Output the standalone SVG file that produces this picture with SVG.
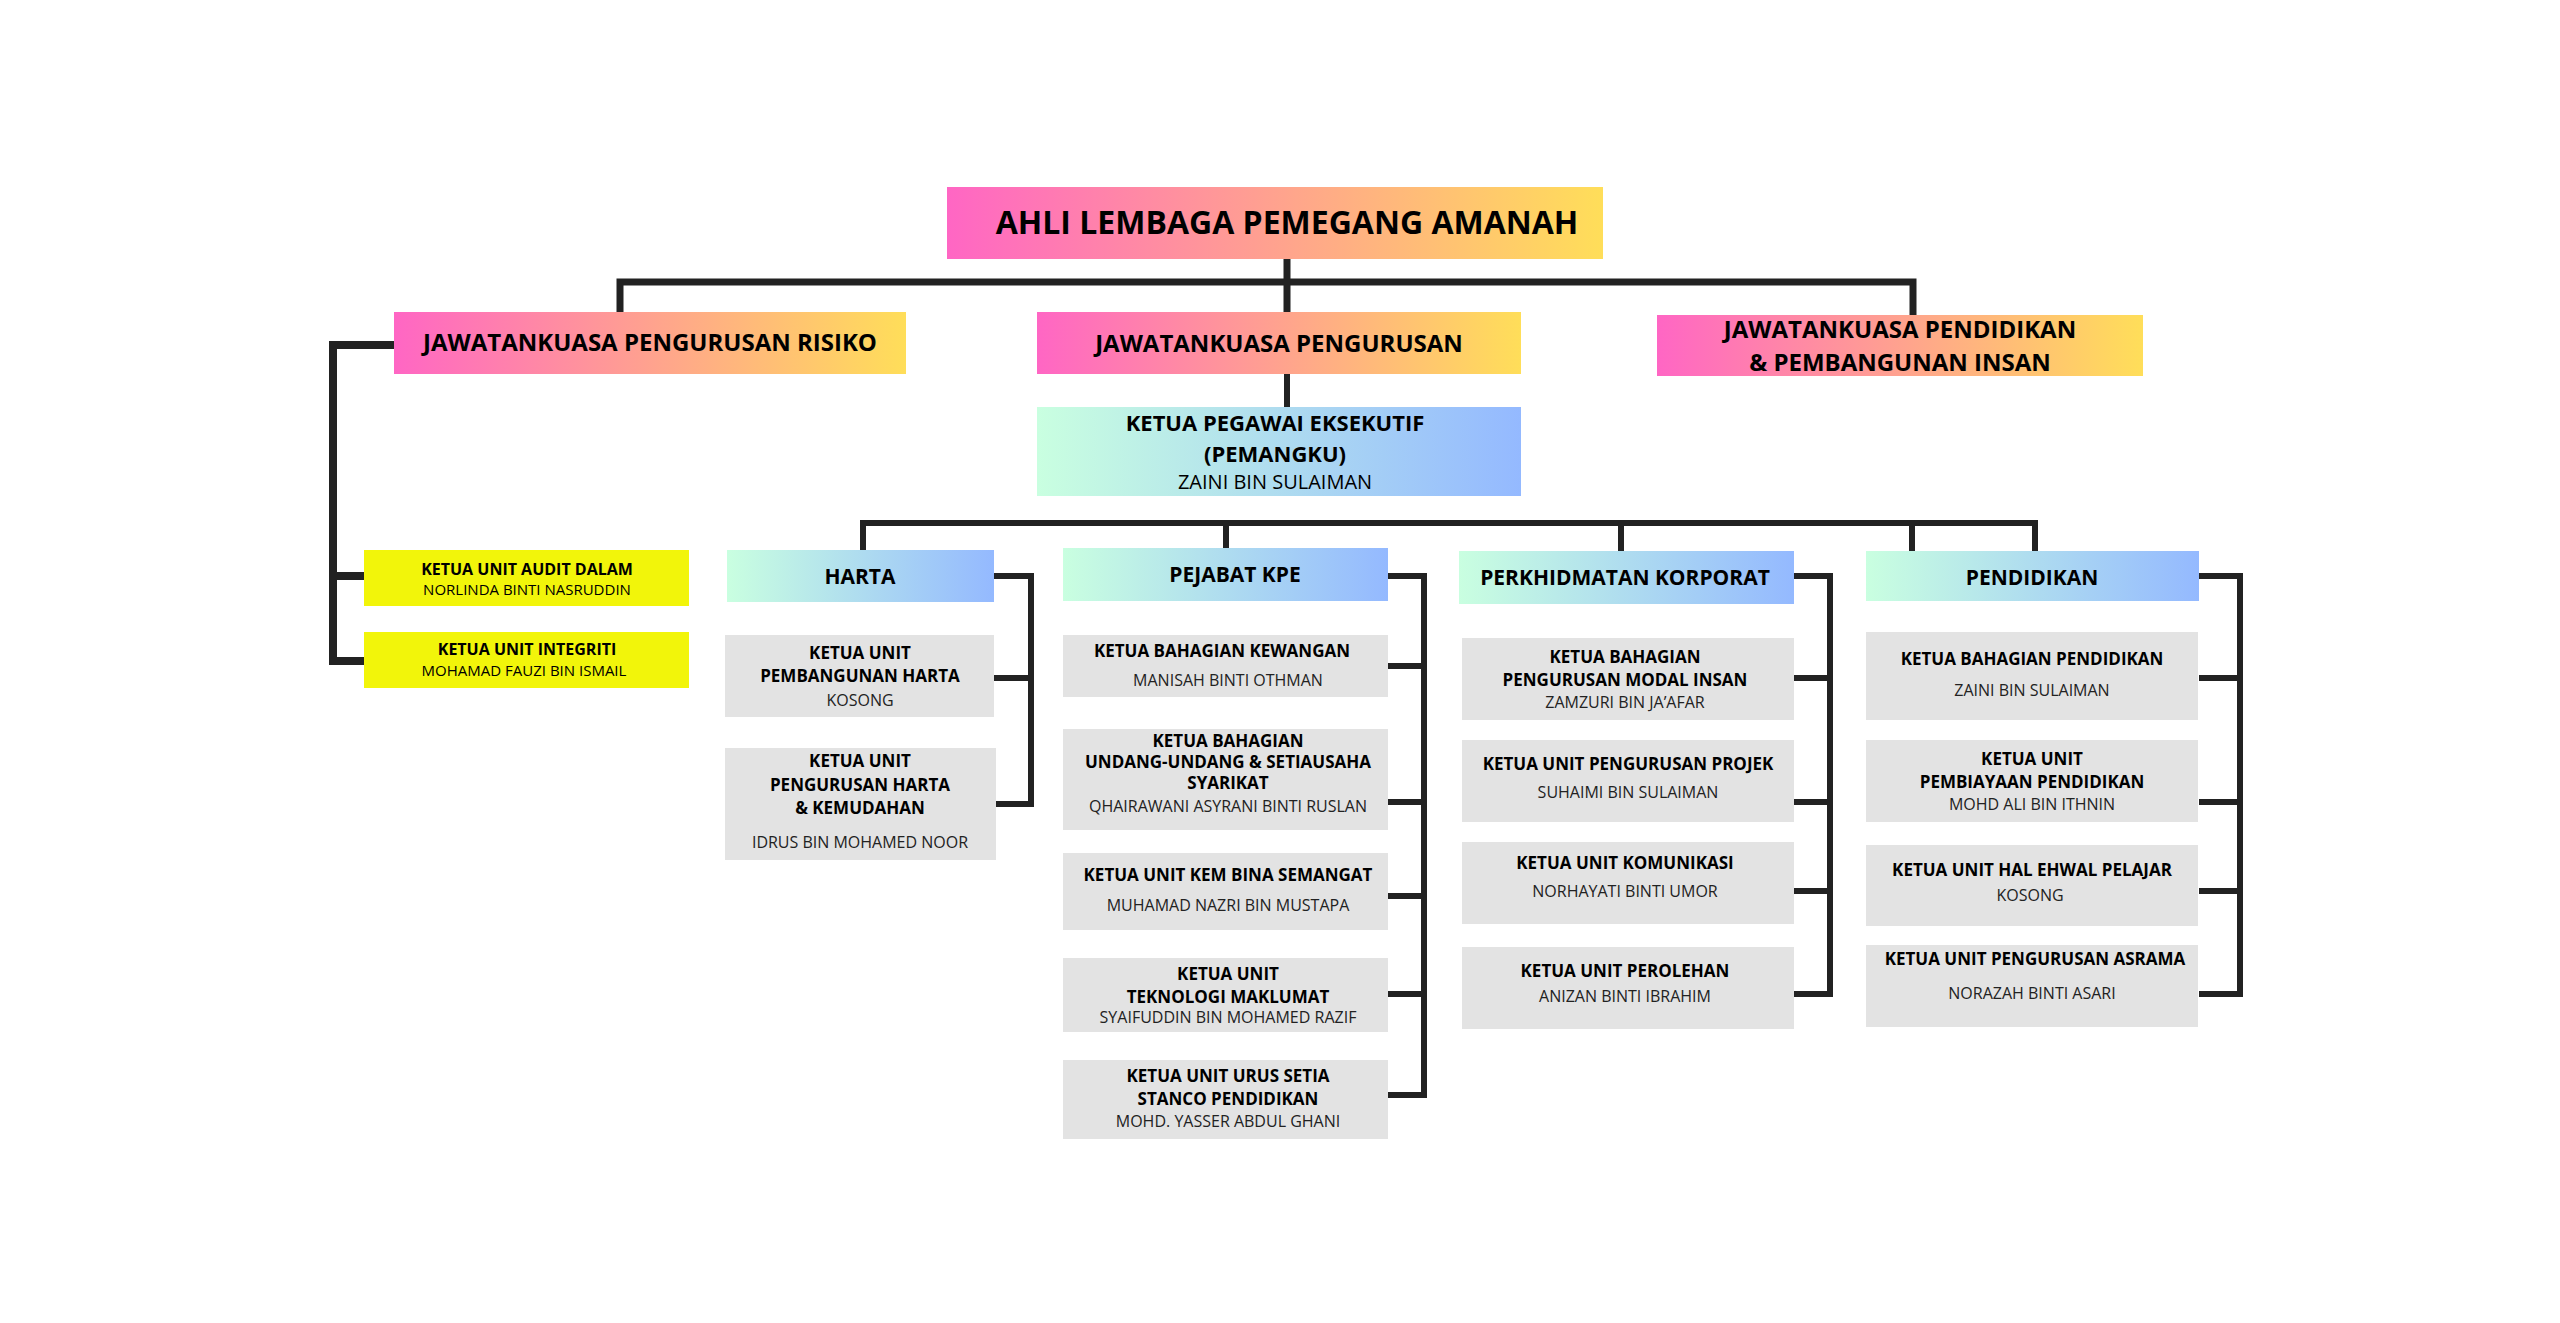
<svg xmlns="http://www.w3.org/2000/svg" width="2560" height="1323" viewBox="0 0 2560 1323">
<defs>
<linearGradient id="pk" x1="0" x2="1" y1="0" y2="0"><stop offset="0" stop-color="#ff66c4"/><stop offset="1" stop-color="#ffde59"/></linearGradient>
<linearGradient id="bl" x1="0" x2="1" y1="0" y2="0"><stop offset="0" stop-color="#c9ffe0"/><stop offset="1" stop-color="#94b9ff"/></linearGradient>
<style>
text{font-family:"Open Sans","Noto Sans",sans-serif;fill:#000;text-anchor:middle}
.b{font-weight:bold}
.g{fill:#e3e3e3}
.y{fill:#f2f50a}
.c{fill:none;stroke:#222;stroke-width:6}
.t{font-size:17px;font-weight:bold}
.n{font-size:16px;fill:#222}
</style>
</defs>
<rect width="2560" height="1323" fill="#fff"/>
<g id="connectors" class="c">
<path d="M1287 259V312M620 312V282H1913V315M1287 282V312" stroke-width="7"/>
<path d="M1287 374V407M863 550V523H2035V551M1226 523V548M1621 523V551M1912 523V551"/>
<path d="M394 345H333V661H364M333 576H364" stroke-width="8"/>
<path d="M994 576H1031V804H996M994 678H1031"/>
<path d="M1388 576H1424V1095H1388M1388 666H1424M1388 802H1424M1388 896H1424M1388 994H1424"/>
<path d="M1794 576H1830V994H1794M1794 678H1830M1794 802H1830M1794 891H1830"/>
<path d="M2199 576H2240V994H2199M2199 678H2240M2199 802H2240M2199 891H2240"/>
</g>
<g id="top"><rect x="947" y="187" width="656" height="72" fill="url(#pk)"/><text x="1287" y="234" class="b" font-size="32">AHLI LEMBAGA PEMEGANG AMANAH</text></g>
<g id="risiko"><rect x="394" y="312" width="512" height="62" fill="url(#pk)"/><text x="650" y="351" class="b" font-size="24">JAWATANKUASA PENGURUSAN RISIKO</text></g>
<g id="pengurusan"><rect x="1037" y="312" width="484" height="62" fill="url(#pk)"/><text x="1279" y="352" class="b" font-size="24">JAWATANKUASA PENGURUSAN</text></g>
<g id="pendidikan-insan"><rect x="1657" y="315" width="486" height="61" fill="url(#pk)"/><text x="1900" y="338" class="b" font-size="24">JAWATANKUASA PENDIDIKAN</text><text x="1900" y="371" class="b" font-size="24">&amp; PEMBANGUNAN INSAN</text></g>
<g id="kpe"><rect x="1037" y="407" width="484" height="89" fill="url(#bl)"/><text x="1275" y="431" class="b" font-size="22">KETUA PEGAWAI EKSEKUTIF</text><text x="1275" y="462" class="b" font-size="22">(PEMANGKU)</text><text x="1275" y="489" font-size="20">ZAINI BIN SULAIMAN</text></g>
<g id="audit"><rect x="364" y="550" width="325" height="56" class="y"/><text x="527" y="575" class="b" font-size="16">KETUA UNIT AUDIT DALAM</text><text x="527" y="595" font-size="15">NORLINDA BINTI NASRUDDIN</text></g>
<g id="integriti"><rect x="364" y="632" width="325" height="56" class="y"/><text x="527" y="655" class="b" font-size="16">KETUA UNIT INTEGRITI</text><text x="524" y="676" font-size="15">MOHAMAD FAUZI BIN ISMAIL</text></g>
<g id="harta"><rect x="727" y="550" width="267" height="52" fill="url(#bl)"/><text x="860" y="584" class="b" font-size="21">HARTA</text></g>
<g id="pejabat"><rect x="1063" y="548" width="325" height="53" fill="url(#bl)"/><text x="1235" y="582" class="b" font-size="21">PEJABAT KPE</text></g>
<g id="korporat"><rect x="1459" y="551" width="335" height="53" fill="url(#bl)"/><text x="1625" y="585" class="b" font-size="21">PERKHIDMATAN KORPORAT</text></g>
<g id="pendidikan"><rect x="1866" y="551" width="333" height="50" fill="url(#bl)"/><text x="2032" y="585" class="b" font-size="21">PENDIDIKAN</text></g>
<g id="h1"><rect x="725" y="635" width="269" height="82" class="g"/><text x="860" y="659" class="t">KETUA UNIT</text><text x="860" y="682" class="t">PEMBANGUNAN HARTA</text><text x="860" y="706" class="n">KOSONG</text></g>
<g id="h2"><rect x="725" y="748" width="271" height="112" class="g"/><text x="860" y="767" class="t">KETUA UNIT</text><text x="860" y="791" class="t">PENGURUSAN HARTA</text><text x="860" y="814" class="t">&amp; KEMUDAHAN</text><text x="860" y="848" class="n">IDRUS BIN MOHAMED NOOR</text></g>
<g id="k1"><rect x="1063" y="635" width="325" height="62" class="g"/><text x="1222" y="657" class="t">KETUA BAHAGIAN KEWANGAN</text><text x="1228" y="686" class="n">MANISAH BINTI OTHMAN</text></g>
<g id="k2"><rect x="1063" y="729" width="325" height="101" class="g"/><text x="1228" y="747" class="t" font-size="16">KETUA BAHAGIAN</text><text x="1228" y="768" class="t" font-size="16">UNDANG-UNDANG &amp; SETIAUSAHA</text><text x="1228" y="789" class="t" font-size="16">SYARIKAT</text><text x="1228" y="812" class="n">QHAIRAWANI ASYRANI BINTI RUSLAN</text></g>
<g id="k3"><rect x="1063" y="853" width="325" height="77" class="g"/><text x="1228" y="881" class="t">KETUA UNIT KEM BINA SEMANGAT</text><text x="1228" y="911" class="n">MUHAMAD NAZRI BIN MUSTAPA</text></g>
<g id="k4"><rect x="1063" y="958" width="325" height="74" class="g"/><text x="1228" y="980" class="t">KETUA UNIT</text><text x="1228" y="1003" class="t">TEKNOLOGI MAKLUMAT</text><text x="1228" y="1023" class="n">SYAIFUDDIN BIN MOHAMED RAZIF</text></g>
<g id="k5"><rect x="1063" y="1060" width="325" height="79" class="g"/><text x="1228" y="1082" class="t">KETUA UNIT URUS SETIA</text><text x="1228" y="1105" class="t">STANCO PENDIDIKAN</text><text x="1228" y="1127" class="n">MOHD. YASSER ABDUL GHANI</text></g>
<g id="p1"><rect x="1462" y="638" width="332" height="82" class="g"/><text x="1625" y="663" class="t">KETUA BAHAGIAN</text><text x="1625" y="686" class="t">PENGURUSAN MODAL INSAN</text><text x="1625" y="708" class="n">ZAMZURI BIN JA’AFAR</text></g>
<g id="p2"><rect x="1462" y="740" width="332" height="82" class="g"/><text x="1628" y="770" class="t">KETUA UNIT PENGURUSAN PROJEK</text><text x="1628" y="798" class="n">SUHAIMI BIN SULAIMAN</text></g>
<g id="p3"><rect x="1462" y="842" width="332" height="82" class="g"/><text x="1625" y="869" class="t">KETUA UNIT KOMUNIKASI</text><text x="1625" y="897" class="n">NORHAYATI BINTI UMOR</text></g>
<g id="p4"><rect x="1462" y="947" width="332" height="82" class="g"/><text x="1625" y="977" class="t">KETUA UNIT PEROLEHAN</text><text x="1625" y="1002" class="n">ANIZAN BINTI IBRAHIM</text></g>
<g id="d1"><rect x="1866" y="632" width="332" height="88" class="g"/><text x="2032" y="665" class="t">KETUA BAHAGIAN PENDIDIKAN</text><text x="2032" y="696" class="n">ZAINI BIN SULAIMAN</text></g>
<g id="d2"><rect x="1866" y="740" width="332" height="82" class="g"/><text x="2032" y="765" class="t">KETUA UNIT</text><text x="2032" y="788" class="t">PEMBIAYAAN PENDIDIKAN</text><text x="2032" y="810" class="n">MOHD ALI BIN ITHNIN</text></g>
<g id="d3"><rect x="1866" y="845" width="332" height="81" class="g"/><text x="2032" y="876" class="t">KETUA UNIT HAL EHWAL PELAJAR</text><text x="2030" y="901" class="n">KOSONG</text></g>
<g id="d4"><rect x="1866" y="945" width="332" height="82" class="g"/><text x="2035" y="965" class="t">KETUA UNIT PENGURUSAN ASRAMA</text><text x="2032" y="999" class="n">NORAZAH BINTI ASARI</text></g>
</svg>
